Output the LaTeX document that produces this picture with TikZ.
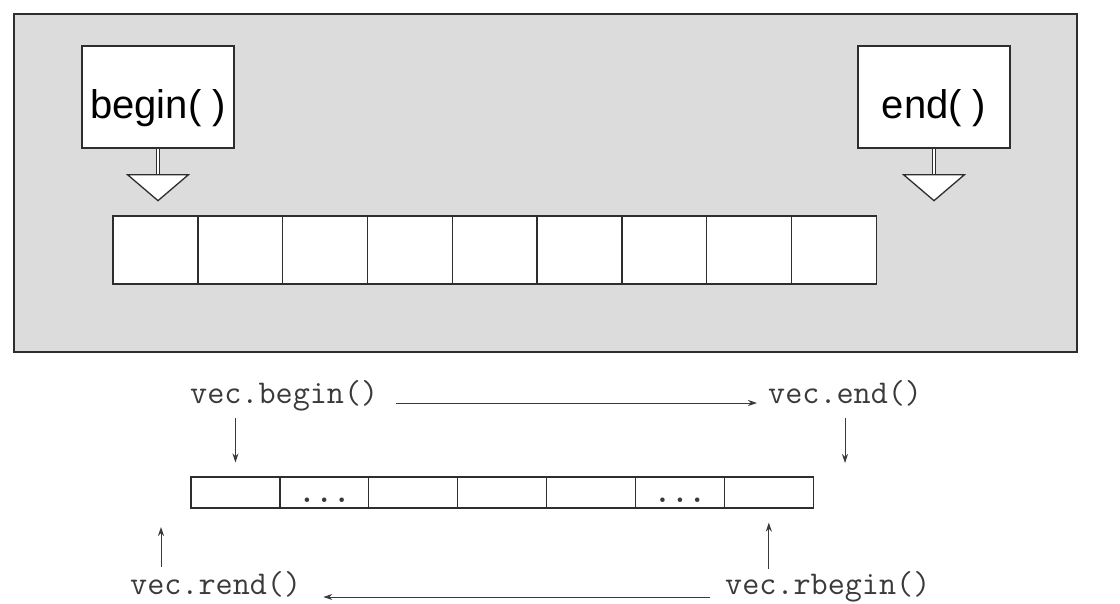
\documentclass[tikz,border=0pt]{standalone}
\usepackage{fontspec}
\setmainfont{Liberation Sans}
\usetikzlibrary{arrows.meta,calc}
\definecolor{panelgray}{HTML}{DCDCDC}
\definecolor{inkdark}{HTML}{2E2E2E}
\definecolor{codeink}{HTML}{3A3A3A}
\def\celldots{...}
\begin{document}
\begin{tikzpicture}[x=1pt,y=-1pt,
  panel/.style={draw=inkdark,line width=1.6pt,fill=panelgray},
  labelbox/.style={draw=inkdark,line width=1.3pt,fill=white,minimum width=152pt,minimum height=102pt,inner sep=0pt,
    text height=50pt,text depth=8pt,font=\fontsize{40}{42}\selectfont},
  stem/.style={draw=inkdark,line width=0.9pt,double=white,double distance=2.6pt},
  tri/.style={draw=inkdark,line width=1.3pt,fill=white,line join=miter},
  cell/.style={draw=inkdark,line width=1.4pt,fill=white,minimum width=84.8pt,minimum height=68pt,inner sep=0pt},
  smallcell/.style={draw=inkdark,line width=1.2pt,fill=white,minimum width=88.9pt,minimum height=31pt,inner sep=0pt,
    text height=20pt,text depth=1pt,font=\ttfamily\bfseries\fontsize{33}{34}\selectfont,text=codeink},
  code/.style={inner sep=0pt,font=\ttfamily\fontsize{33.2}{34}\selectfont,text=codeink},
  arr/.style={draw=codeink,line width=0.9pt,-{Stealth[length=9pt,width=6pt]}}]
\useasboundingbox (0,0) rectangle (1120,603);
% top panel
\draw[panel] (14,14) rectangle (1077,352);
\node[labelbox] (bb) at (158,97) {begin( )};
\node[labelbox] (eb) at (934,97) {end( )};
\foreach \n in {bb,eb}{
  \draw[stem] (\n.south) -- ++(0,26);
  \draw[tri] ($(\n.south)+(-30.5,26)$) -- ($(\n.south)+(30.5,26)$) -- ($(\n.south)+(0,52)$) -- cycle;
}
\foreach \i in {1,2,3,4,5,6,7,8,9}{
  \node[cell] (c\i) at ({113+84.8*(\i-0.5)},250) {};
}
% bottom diagram
\foreach \i/\t in {1/,2/\celldots,3/,4/,5/,6/\celldots,7/}{
  \node[smallcell] (s\i) at ({191+88.9*(\i-0.5)},492.5) {\t};
}
\node[code,anchor=base west] (vb) at (190,403) {vec.begin()};
\node[code,anchor=base west] (ve) at (768,403) {vec.end()};
\node[code,anchor=base west] (vr) at (130,594) {vec.rend()};
\node[code,anchor=base west] (vrb) at (725,594) {vec.rbegin()};
\coordinate (endtip) at (845,463);
\coordinate (rendtip) at (161,527);
\coordinate (rendtail) at (161,567);
\draw[arr] ([xshift=18pt]vb.base east) -- ([xshift=-11pt]ve.base west);
\draw[arr] ([xshift=-15pt,yshift=-3pt]vrb.base west) -- ([xshift=22pt,yshift=-3pt]vr.base east);
\draw[arr] (s1.north |- 0,418) -- ([yshift=14pt]s1.north);
\draw[arr] (endtip |- 0,418) -- (endtip);
\draw[arr] (s7.south |- 0,569) -- ([yshift=-14pt]s7.south);
\draw[arr] (rendtail) -- (rendtip);
\end{tikzpicture}
\end{document}
